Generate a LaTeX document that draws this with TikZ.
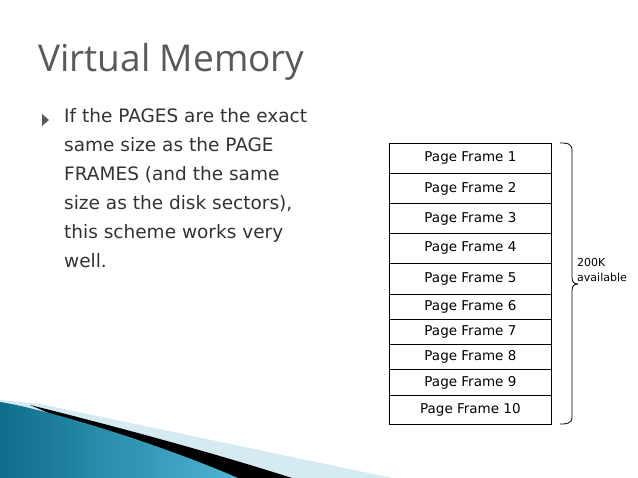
\documentclass[tikz,border=0pt]{standalone}
\usepackage{fontspec}
\setmainfont{Open Sans}
\newfontfamily\framefont{DejaVu Sans}
\definecolor{slidegray}{HTML}{595959}
\definecolor{bodygray}{HTML}{333333}
\definecolor{tealA}{HTML}{0F6E8C}
\definecolor{tealB}{HTML}{4FB3D3}
\definecolor{paleblue}{HTML}{D5EAF2}
\tikzset{frame/.style={draw=black, line width=0.8pt, minimum width=162pt, anchor=north west, inner sep=0pt, font=\framefont\fontsize{13.5}{14}\selectfont, text=black}}
\begin{document}
\begin{tikzpicture}[x=1pt,y=-1pt]
\useasboundingbox (0,0) rectangle (638,478);
\fill[white] (0,0) rectangle (638,478);
% bottom decoration
\fill[paleblue] (40,404) -- (392,478) -- (0,478) -- (0,400) -- cycle;
\fill[black] (30,405) .. controls (130,430) and (220,455) .. (292,478) -- (200,478) -- cycle;
\shade[left color=tealA, right color=tealB] (0,402) .. controls (40,408) and (150,440) .. (238,478) -- (0,478) -- cycle;
% title
\node[anchor=base west, inner sep=0pt, text=slidegray, font=\fontsize{37}{40}\selectfont] (title) at (38,72) {Virtual Memory};
% bullet
\fill[slidegray] (42,114) -- (49,120) -- (42,126) -- cycle;
\node[anchor=north west, inner sep=0pt, text=bodygray, align=left, font=\framefont\fontsize{18.5}{29}\selectfont] (body) at (64,108)
 {If the PAGES are the exact\\same size as the PAGE\\FRAMES (and the same\\size as the disk sectors),\\this scheme works very\\well.};
% frames
\node[frame, minimum height=30pt] (f1) at (389,143) {Page Frame 1};
\node[frame, minimum height=30pt] (f2) at (389,173) {Page Frame 2};
\node[frame, minimum height=30pt] (f3) at (389,203) {Page Frame 3};
\node[frame, minimum height=30pt] (f4) at (389,233) {Page Frame 4};
\node[frame, minimum height=31pt] (f5) at (389,263) {Page Frame 5};
\node[frame, minimum height=25pt] (f6) at (389,294) {Page Frame 6};
\node[frame, minimum height=25pt] (f7) at (389,319) {Page Frame 7};
\node[frame, minimum height=25pt] (f8) at (389,344) {Page Frame 8};
\node[frame, minimum height=26pt] (f9) at (389,369) {Page Frame 9};
\node[frame, minimum height=29pt] (f10) at (389,395) {Page Frame 10};
% brace
\draw[line width=0.8pt] (560,143) .. controls (566,143) and (572,143) .. (572,150) -- (572,277) .. controls (572,282) and (574,284) .. (578,284);
\draw[line width=0.8pt] (578,284) .. controls (574,284) and (572,286) .. (572,291) -- (572,417) .. controls (572,424) and (566,424) .. (560,424);
\node[anchor=base west, inner sep=0pt, align=left, font=\framefont\fontsize{11}{15}\selectfont] (lbl) at (577,282) {200K\\available};
\end{tikzpicture}
\end{document}
